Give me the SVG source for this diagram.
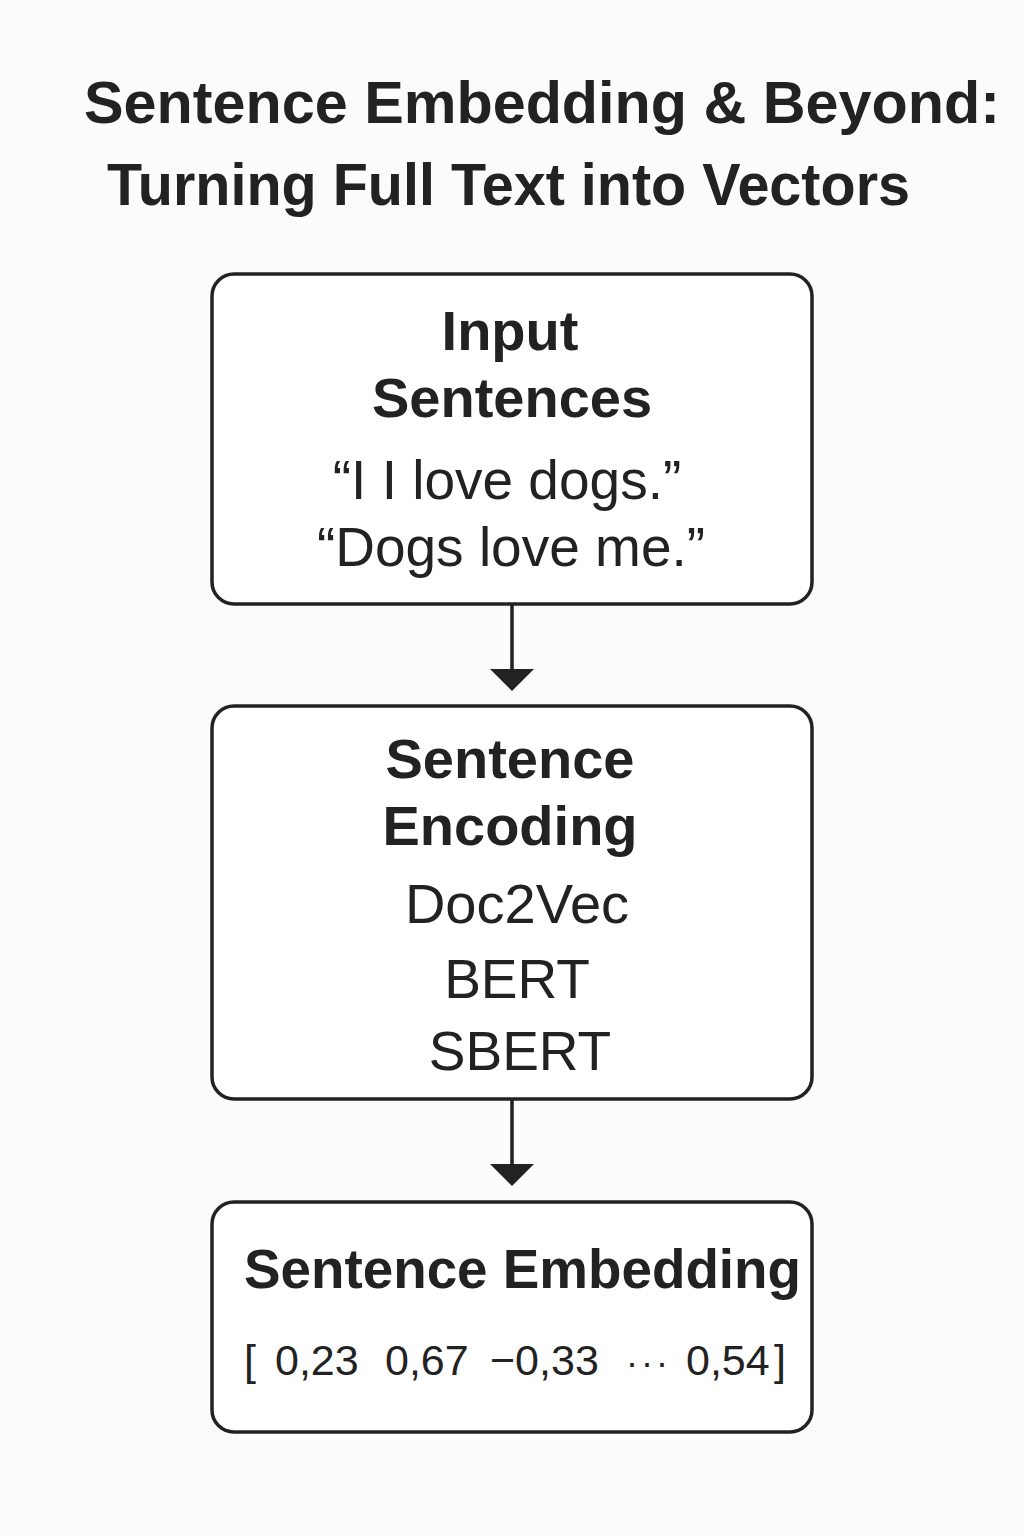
<svg xmlns="http://www.w3.org/2000/svg" width="1024" height="1536" viewBox="0 0 1024 1536">
  <style>
    .title { font-family: "Liberation Sans", Arial, sans-serif; font-weight: bold; font-size: 59px; fill: #222; }
    .head { font-family: "Liberation Sans", Arial, sans-serif; font-weight: bold; font-size: 56px; fill: #222; text-anchor: middle; }
    .body { font-family: "Liberation Sans", Arial, sans-serif; font-size: 55px; fill: #222; text-anchor: middle; }
    .vec { font-family: "Liberation Sans", Arial, sans-serif; font-size: 43px; fill: #222; }
    .dot { font-size: 36px; }
    .box { fill: #ffffff; stroke: #222; stroke-width: 3.5; }
    .conn { stroke: #222; stroke-width: 3.5; fill: none; }
  </style>
  <defs>
    <marker id="arrow" markerUnits="userSpaceOnUse" viewBox="0 0 22 44" markerWidth="22" markerHeight="44" refX="0" refY="22" orient="auto">
      <path d="M0,0 L22,22 L0,44 z" fill="#222"/>
    </marker>
  </defs>
  <rect width="1024" height="1536" fill="#fbfbfb"/>

  <g id="title">
    <text class="title" x="84" y="123" textLength="916" lengthAdjust="spacingAndGlyphs">Sentence Embedding &amp; Beyond:</text>
    <text class="title" x="107" y="205" textLength="803" lengthAdjust="spacingAndGlyphs">Turning Full Text into Vectors</text>
  </g>

  <g id="connectors">
    <line class="conn" x1="512" y1="605" x2="512" y2="669" marker-end="url(#arrow)"/>
    <line class="conn" x1="512" y1="1100" x2="512" y2="1164" marker-end="url(#arrow)"/>
  </g>

  <g id="node-input">
    <rect class="box" x="212" y="274" width="600" height="330" rx="22"/>
    <text class="head" x="510" y="350">Input</text>
    <text class="head" x="512" y="417">Sentences</text>
    <text class="body" x="507" y="499">“I I love dogs.”</text>
    <text class="body" x="511" y="566">“Dogs love me.”</text>
  </g>

  <g id="node-encoding">
    <rect class="box" x="212" y="706" width="600" height="393" rx="22"/>
    <text class="head" x="510" y="778">Sentence</text>
    <text class="head" x="510" y="845">Encoding</text>
    <text class="body" x="517" y="923" style="font-size:56px">Doc2Vec</text>
    <text class="body" x="517" y="998">BERT</text>
    <text class="body" x="520" y="1070">SBERT</text>
  </g>

  <g id="node-embedding">
    <rect class="box" x="212" y="1202" width="600" height="230" rx="22"/>
    <text class="head" x="244" y="1288" style="text-anchor:start" textLength="557" lengthAdjust="spacingAndGlyphs">Sentence Embedding</text>
    <text class="vec" y="1375"><tspan x="244">[</tspan><tspan x="275">0,23</tspan><tspan x="385">0,67</tspan><tspan x="490">−0,33</tspan><tspan class="dot" x="626">·</tspan><tspan class="dot" x="641">·</tspan><tspan class="dot" x="656">·</tspan><tspan x="686">0,54</tspan><tspan x="774">]</tspan></text>
  </g>
</svg>
